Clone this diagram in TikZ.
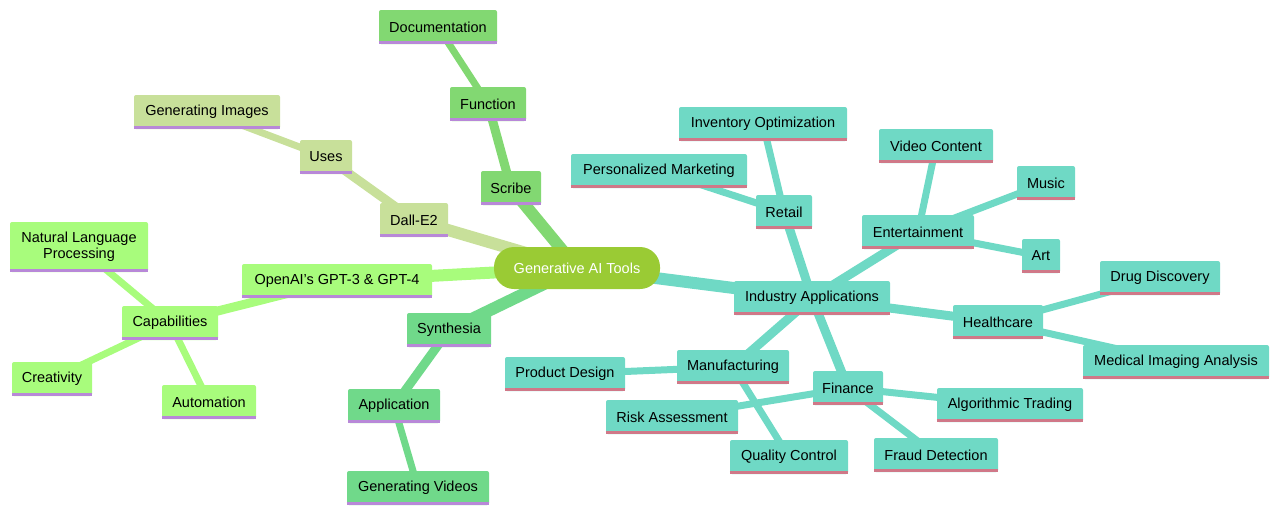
\documentclass[tikz,border=0pt]{standalone}
\usepackage{fontspec}
\setmainfont{Liberation Sans}
\usetikzlibrary{backgrounds}
\definecolor{cdal}{HTML}{C8E09A}
\definecolor{cscr}{HTML}{82D872}
\definecolor{cgpt}{HTML}{A8FC7C}
\definecolor{csyn}{HTML}{70D98A}
\definecolor{cind}{HTML}{6FD9C5}
\definecolor{croot}{HTML}{9ACB34}
\definecolor{upur}{HTML}{B888D8}
\definecolor{ured}{HTML}{D07888}
\tikzset{
  mm/.style={rectangle,rounded corners=2pt,minimum height=34pt,inner sep=0pt,align=center,font=\fontsize{14.5}{16}\selectfont,text=black},
  e1/.style={line width=12pt},
  e2/.style={line width=9pt},
  e3/.style={line width=7pt},
}
\newcommand{\nd}[7]{%
  \node[mm,fill=#6,minimum width=#4pt] (#1) at (#2pt,-#3pt) {#5};
  \draw[#7,line width=3pt] ([yshift=1.5pt]#1.south west) -- ([yshift=1.5pt]#1.south east);}
\begin{document}
\begin{tikzpicture}[x=1pt,y=1pt]
\useasboundingbox (0,0) rectangle (1280,-514);
\node[rounded corners=20pt,fill=croot,minimum width=166pt,minimum height=42pt,text=white,font=\fontsize{14.5}{16}\selectfont] (root) at (577,-268) {Generative AI Tools};
\nd{dal}{414}{220}{68}{Dall-E2}{cdal}{upur}
\nd{uses}{326}{157}{52}{Uses}{cdal}{upur}
\nd{gim}{207}{112}{146}{Generating Images}{cdal}{upur}
\nd{scr}{511}{188}{60}{Scribe}{cscr}{upur}
\nd{fun}{488}{104}{76}{Function}{cscr}{upur}
\nd{doc}{438}{27}{118}{Documentation}{cscr}{upur}
\nd{gpt}{337}{281}{190}{OpenAI's GPT-3 \& GPT-4}{cgpt}{upur}
\nd{cap}{170}{323}{96}{Capabilities}{cgpt}{upur}
\node[mm,fill=cgpt,minimum width=138pt,minimum height=50pt] (nlp) at (79pt,-247pt) {Natural Language\\Processing};
\draw[upur,line width=3pt] ([yshift=1.5pt]nlp.south west) -- ([yshift=1.5pt]nlp.south east);
\nd{cre}{52}{379}{80}{Creativity}{cgpt}{upur}
\nd{aut}{209}{402}{94}{Automation}{cgpt}{upur}
\nd{syn}{449}{330}{84}{Synthesia}{csyn}{upur}
\nd{app}{394}{406}{92}{Application}{csyn}{upur}
\nd{gvid}{418}{488}{142}{Generating Videos}{csyn}{upur}
\nd{ind}{812}{298}{156}{Industry Applications}{cind}{ured}
\nd{ret}{784}{212}{56}{Retail}{cind}{ured}
\nd{inv}{763}{124}{168}{Inventory Optimization}{cind}{ured}
\nd{pm}{659}{171}{176}{Personalized Marketing}{cind}{ured}
\nd{ent}{918}{232}{112}{Entertainment}{cind}{ured}
\nd{vc}{936}{146}{114}{Video Content}{cind}{ured}
\nd{mus}{1046}{183}{58}{Music}{cind}{ured}
\nd{art}{1041}{256}{38}{Art}{cind}{ured}
\nd{hc}{998}{322}{90}{Healthcare}{cind}{ured}
\nd{dd}{1160}{278}{120}{Drug Discovery}{cind}{ured}
\nd{mia}{1176}{362}{186}{Medical Imaging Analysis}{cind}{ured}
\nd{man}{733}{367}{112}{Manufacturing}{cind}{ured}
\nd{pd}{565}{374}{120}{Product Design}{cind}{ured}
\nd{qc}{789}{457}{118}{Quality Control}{cind}{ured}
\nd{fin}{848}{388}{70}{Finance}{cind}{ured}
\nd{ra}{672}{417}{132}{Risk Assessment}{cind}{ured}
\nd{at}{1010}{405}{146}{Algorithmic Trading}{cind}{ured}
\nd{fd}{936}{455}{124}{Fraud Detection}{cind}{ured}
\begin{pgfonlayer}{background}
\draw[cdal,e1] (root.center) -- (dal.center);
\draw[cdal,e2] (dal.center) -- (uses.center);
\draw[cdal,e3] (uses.center) -- (gim.center);
\draw[cscr,e1] (root.center) -- (scr.center);
\draw[cscr,e2] (scr.center) -- (fun.center);
\draw[cscr,e3] (fun.center) -- (doc.center);
\draw[cgpt,e1] (root.center) -- (gpt.center);
\draw[cgpt,e2] (gpt.center) -- (cap.center);
\draw[cgpt,e3] (cap.center) -- (nlp.center);
\draw[cgpt,e3] (cap.center) -- (cre.center);
\draw[cgpt,e3] (cap.center) -- (aut.center);
\draw[csyn,e1] (root.center) -- (syn.center);
\draw[csyn,e2] (syn.center) -- (app.center);
\draw[csyn,e3] (app.center) -- (gvid.center);
\draw[cind,e1] (root.center) -- (ind.center);
\foreach \c in {ret,ent,hc,man,fin} \draw[cind,e2] (ind.center) -- (\c.center);
\draw[cind,e3] (ret.center) -- (inv.center);
\draw[cind,e3] (ret.center) -- (pm.center);
\draw[cind,e3] (ent.center) -- (vc.center);
\draw[cind,e3] (ent.center) -- (mus.center);
\draw[cind,e3] (ent.center) -- (art.center);
\draw[cind,e3] (hc.center) -- (dd.center);
\draw[cind,e3] (hc.center) -- (mia.center);
\draw[cind,e3] (man.center) -- (pd.center);
\draw[cind,e3] (man.center) -- (qc.center);
\draw[cind,e3] (fin.center) -- (ra.center);
\draw[cind,e3] (fin.center) -- (at.center);
\draw[cind,e3] (fin.center) -- (fd.center);
\end{pgfonlayer}
\end{tikzpicture}
\end{document}
